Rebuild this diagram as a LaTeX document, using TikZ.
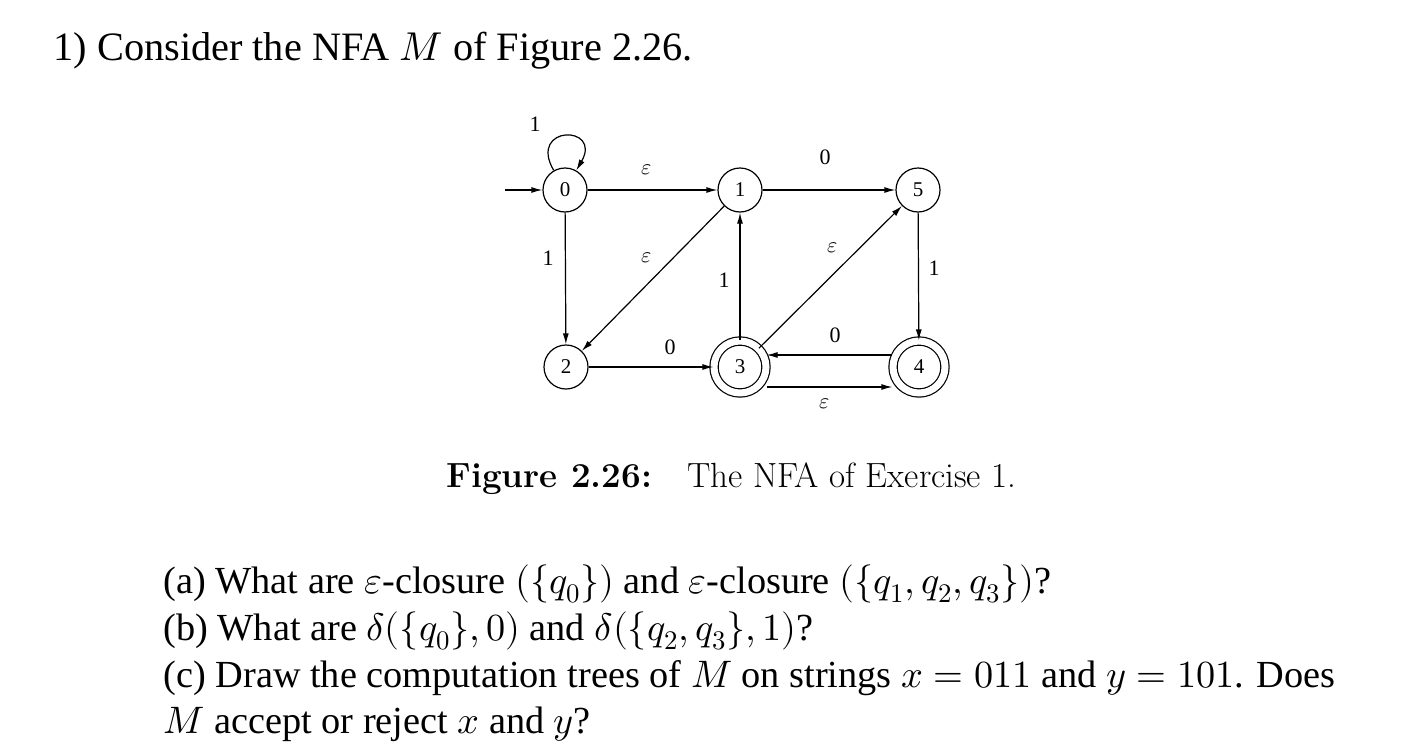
\documentclass[tikz,border=0pt]{standalone}
\usepackage{unicode-math}
\setmainfont{Liberation Serif}
\setmathfont{Latin Modern Math}
\newfontfamily\cmfont{Latin Modern Roman}
\usetikzlibrary{arrows.meta}
\begin{document}
\begin{tikzpicture}[x=1pt,y=-1pt,
  st/.style={circle,draw,line width=1.2pt,minimum size=44pt,inner sep=0pt,font=\fontsize{21}{21}\selectfont},
  acc/.style={st,double distance=7pt,minimum size=52pt},
  ed/.style={line width=1.2pt,-{Latex[length=11pt,width=6pt]}},
  lb/.style={font=\fontsize{22}{22}\selectfont},
  qt/.style={anchor=base west,font=\fontsize{38.3}{38.3}\selectfont}]
\useasboundingbox (0,0) rectangle (1412,752);
\node[qt,font=\fontsize{40.3}{40.3}\selectfont] (title) at (50,60) {1) Consider the NFA $M$ of Figure 2.26.};
\node[st] (q0) at (565,190) {0};
\node[st] (q1) at (740,190) {1};
\node[st] (q5) at (918,190) {5};
\node[st] (q2) at (566,367) {2};
\node[acc] (q3) at (740,367) {3};
\node[acc] (q4) at (919,367) {4};
\coordinate (start) at (505,190);
\draw[ed] (start) -- (q0);
\draw[ed] (q0) to[out=120,in=60,looseness=6] (q0);
\draw[ed] (q0) -- (q1);
\draw[ed] (q1) -- (q5);
\draw[ed] (q0) -- (q2);
\draw[ed] (q1) -- (q2);
\draw[ed] (q3) -- (q1);
\draw[ed] (q3) -- (q5);
\draw[ed] (q5) -- (q4);
\draw[ed] (q2) -- (q3);
\draw[ed] (q4.west|-0,355) -- (q3.east|-0,355);
\draw[ed] (q3.east|-0,387) -- (q4.west|-0,387);
\node[lb] (l1) at (535,124) {1};
\node[lb] (l2) at (647,170) {$\varepsilon$};
\node[lb] (l3) at (825,157) {0};
\node[lb] (l4) at (548,258) {1};
\node[lb] (l5) at (647,258) {$\varepsilon$};
\node[lb] (l6) at (724,280) {1};
\node[lb] (l7) at (833,248) {$\varepsilon$};
\node[lb] (l8) at (934,268) {1};
\node[lb] (l9) at (670,347) {0};
\node[lb] (l10) at (835,335) {0};
\node[lb] (l11) at (825,404) {$\varepsilon$};
\node[anchor=base west,font=\cmfont\fontsize{35}{35}\selectfont] (cap) at (443,487) {\textbf{Figure 2.26:}\quad The NFA of Exercise 1.};
\node[qt] (qa) at (160,593) {(a) What are $\varepsilon$-closure $(\{q_0\})$ and $\varepsilon$-closure $(\{q_1,q_2,q_3\})$?};
\node[qt] (qb) at (160,640) {(b) What are $\delta(\{q_0\},0)$ and $\delta(\{q_2,q_3\},1)$?};
\node[qt] (qc) at (160,687) {(c) Draw the computation trees of $M$ on strings $x=011$ and $y=101$. Does};
\node[qt] (qd) at (160,733) {$M$ accept or reject $x$ and $y$?};
\end{tikzpicture}
\end{document}
